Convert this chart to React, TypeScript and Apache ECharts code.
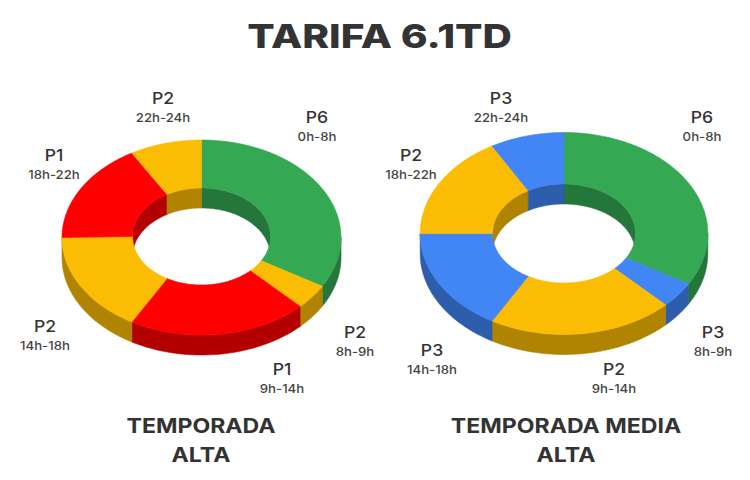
import React, { useEffect, useRef } from "react";
import * as echarts from "echarts";

const chartTitle = "TARIFA 6.1TD";
const hours = [8, 1, 5, 4, 4, 2];
const timeRanges = ["0h-8h", "8h-9h", "9h-14h", "14h-18h", "18h-22h", "22h-24h"];
const periodsAlta = ["P6", "P2", "P1", "P2", "P1", "P2"];
const periodsMediaAlta = ["P6", "P3", "P2", "P3", "P2", "P3"];
const seasonAlta = ["TEMPORADA", "ALTA"];
const seasonMediaAlta = ["TEMPORADA MEDIA", "ALTA"];

const FACE: Record<string, string> = { P1: "#ff0000", P2: "#fbbc04", P3: "#4285f4", P6: "#34a853" };
const WALL: Record<string, string> = { P1: "#b30000", P2: "#b08400", P3: "#2e5dab", P6: "#24763a" };
const INK = "#333333";
const FONT = "Inter";

type Ring = { cx: number; cy: number; rx: number; ry: number; irx: number; iry: number; icy: number; depth: number };
const ringAlta: Ring = { cx: 201.5, cy: 237.5, rx: 139.5, ry: 97.5, irx: 69, iry: 48.5, icy: 236.5, depth: 20 };
const ringMedia: Ring = { cx: 564, cy: 233.5, rx: 143.8, ry: 101, irx: 71.5, iry: 49.5, icy: 233.5, depth: 20 };

const labelsAlta = [[317, 117], [355, 332], [282, 369], [45, 326], [54, 155], [163, 98]];
const labelsMedia = [[702, 117], [713, 332], [614, 369], [432, 350], [411, 155], [501, 98]];

const TOTAL = hours.reduce((a, b) => a + b, 0);
const starts = hours.map((_, i) => hours.slice(0, i).reduce((a, b) => a + b, 0));
const toAngle = (h: number) => (h / TOTAL) * Math.PI * 2;

function arc(cx: number, cy: number, rx: number, ry: number, a0: number, a1: number) {
  const n = Math.max(2, Math.ceil(Math.abs(a1 - a0) / 0.02));
  const pts: number[][] = [];
  for (let i = 0; i <= n; i++) {
    const a = a0 + ((a1 - a0) * i) / n;
    pts.push([cx + rx * Math.sin(a), cy - ry * Math.cos(a)]);
  }
  return pts;
}

function wallItem(ring: Ring, periods: string[]) {
  return (_: any, api: any) => {
    const i = api.value(0);
    const a0 = toAngle(starts[i]);
    const a1 = a0 + toAngle(api.value(1));
    const color = WALL[periods[i]];
    const children: any[] = [];
    const add = (points: number[][]) =>
      children.push({ type: "polygon", shape: { points }, style: { fill: color, stroke: color, lineWidth: 0.6 } });
    // outer wall: lower half only
    const o0 = Math.max(a0, Math.PI / 2);
    const o1 = Math.min(a1, (Math.PI * 3) / 2);
    if (o1 > o0) {
      const top = arc(ring.cx, ring.cy, ring.rx, ring.ry, o0, o1);
      const bottom = arc(ring.cx, ring.cy + ring.depth, ring.rx, ring.ry, o0, o1).reverse();
      add([...top, ...bottom]);
    }
    // inner wall: upper half only
    for (const [u0, u1] of [[0, Math.PI / 2], [(Math.PI * 3) / 2, Math.PI * 2]]) {
      const s = Math.max(a0, u0);
      const e = Math.min(a1, u1);
      if (e > s) {
        const top = arc(ring.cx, ring.icy, ring.irx, ring.iry, s, e);
        const bottom = arc(ring.cx, ring.icy + ring.depth, ring.irx, ring.iry, s, e).reverse();
        add([...top, ...bottom]);
      }
    }
    return { type: "group", children };
  };
}

function faceItem(ring: Ring, periods: string[], labels: number[][]) {
  return (_: any, api: any) => {
    const i = api.value(0);
    const a0 = toAngle(starts[i]);
    const a1 = a0 + toAngle(api.value(1));
    const color = FACE[periods[i]];
    const outer = arc(ring.cx, ring.cy, ring.rx, ring.ry, a0, a1);
    const inner = arc(ring.cx, ring.icy, ring.irx, ring.iry, a0, a1).reverse();
    const [lx, ly] = labels[i];
    return {
      type: "group",
      children: [
        { type: "polygon", shape: { points: [...outer, ...inner] }, style: { fill: color, stroke: color, lineWidth: 0.6 } },
        {
          type: "text", x: lx, y: ly, scaleX: 1.1,
          style: { text: periods[i], fill: INK, font: `500 16px ${FONT}`, textAlign: "center", textVerticalAlign: "middle" },
        },
        {
          type: "text", x: lx, y: ly + 20, scaleX: 1.1,
          style: { text: timeRanges[i], fill: "#444444", font: `500 12px ${FONT}`, textAlign: "center", textVerticalAlign: "middle" },
        },
      ],
    };
  };
}

const rows = hours.map((h, i) => [i, h]);
const baseSeries = { type: "custom", coordinateSystem: "none", silent: true, data: rows, clip: false };

function seasonText(lines: string[], x: number) {
  return lines.map((text, i) => ({
    type: "text", x, y: 426 + i * 29, scaleX: 1.155,
    style: { text, fill: INK, font: `700 20px ${FONT}`, textAlign: "center", textVerticalAlign: "middle" },
  }));
}

export default function App() {
  const ref = useRef<HTMLDivElement>(null);
  useEffect(() => {
    document.body.style.margin = "0";
    const chart = echarts.init(ref.current!, undefined, { renderer: "svg" });
    chart.setOption({
      animation: false,
      backgroundColor: "#ffffff",
      graphic: [
        {
          type: "text", x: 379.5, y: 36, scaleX: 1.23,
          style: { text: chartTitle, fill: INK, font: `800 33px ${FONT}`, textAlign: "center", textVerticalAlign: "middle" },
        },
        ...seasonText(seasonAlta, 201),
        ...seasonText(seasonMediaAlta, 566),
      ],
      series: [
        { ...baseSeries, renderItem: wallItem(ringAlta, periodsAlta) },
        { ...baseSeries, renderItem: wallItem(ringMedia, periodsMediaAlta) },
        { ...baseSeries, renderItem: faceItem(ringAlta, periodsAlta, labelsAlta) },
        { ...baseSeries, renderItem: faceItem(ringMedia, periodsMediaAlta, labelsMedia) },
      ],
    });
    return () => chart.dispose();
  }, []);
  return <div ref={ref} style={{ width: 750, height: 480 }} />;
}
